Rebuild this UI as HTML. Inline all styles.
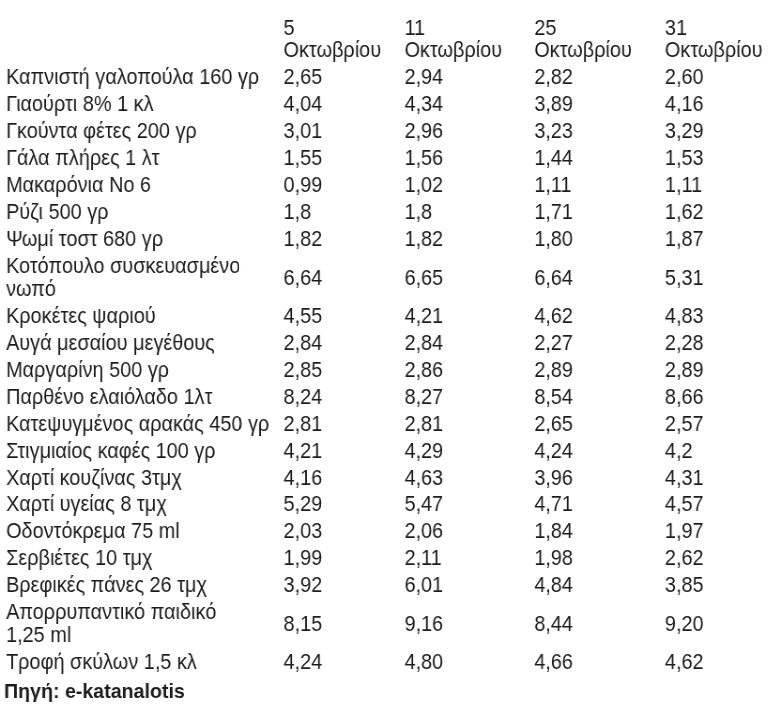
<!DOCTYPE html>
<html><head><meta charset="utf-8">
<style>
html,body{margin:0;padding:0;background:#fff;}
body{width:769px;height:728px;overflow:hidden;position:relative;font-family:"Liberation Sans",sans-serif;color:#1c1c1c;}
#w{position:absolute;left:0;top:0;width:819.236px;height:728px;transform:scaleX(0.93868);transform-origin:0 0;will-change:transform;font-size:21.2px;}
table{position:absolute;left:4.261px;top:14px;border-collapse:collapse;}
td{padding:2px 2.131px;vertical-align:middle;white-space:nowrap;line-height:23px;}
td:nth-child(1){width:291.367px;}
td:nth-child(2){width:124.643px;}
td:nth-child(3){width:134.018px;}
td:nth-child(4){width:134.977px;}
td:nth-child(5){width:106.533px;}
tr.hd td{line-height:22px;padding-top:3px;padding-bottom:2px;}
tr.r15 td{padding-bottom:1px;}
.src{position:absolute;left:4.261px;top:679px;font-weight:bold;font-size:20.880px;}
</style></head><body>
<div id="w">
<table>
<tr class="hd"><td></td><td>5<br>Οκτωβρίου</td><td>11<br>Οκτωβρίου</td><td>25<br>Οκτωβρίου</td><td>31<br>Οκτωβρίου</td></tr>
<tr><td>Καπνιστή γαλοπούλα 160 γρ</td><td>2,65</td><td>2,94</td><td>2,82</td><td>2,60</td></tr>
<tr><td>Γιαούρτι 8% 1 κλ</td><td>4,04</td><td>4,34</td><td>3,89</td><td>4,16</td></tr>
<tr><td>Γκούντα φέτες 200 γρ</td><td>3,01</td><td>2,96</td><td>3,23</td><td>3,29</td></tr>
<tr><td>Γάλα πλήρες 1 λτ</td><td>1,55</td><td>1,56</td><td>1,44</td><td>1,53</td></tr>
<tr><td>Μακαρόνια Νο 6</td><td>0,99</td><td>1,02</td><td>1,11</td><td>1,11</td></tr>
<tr><td>Ρύζι 500 γρ</td><td>1,8</td><td>1,8</td><td>1,71</td><td>1,62</td></tr>
<tr><td>Ψωμί τοστ 680 γρ</td><td>1,82</td><td>1,82</td><td>1,80</td><td>1,87</td></tr>
<tr><td>Κοτόπουλο συσκευασμένο<br>νωπό</td><td>6,64</td><td>6,65</td><td>6,64</td><td>5,31</td></tr>
<tr><td>Κροκέτες ψαριού</td><td>4,55</td><td>4,21</td><td>4,62</td><td>4,83</td></tr>
<tr><td>Αυγά μεσαίου μεγέθους</td><td>2,84</td><td>2,84</td><td>2,27</td><td>2,28</td></tr>
<tr><td>Μαργαρίνη 500 γρ</td><td>2,85</td><td>2,86</td><td>2,89</td><td>2,89</td></tr>
<tr><td>Παρθένο ελαιόλαδο 1λτ</td><td>8,24</td><td>8,27</td><td>8,54</td><td>8,66</td></tr>
<tr><td>Κατεψυγμένος αρακάς 450 γρ</td><td>2,81</td><td>2,81</td><td>2,65</td><td>2,57</td></tr>
<tr><td>Στιγμιαίος καφές 100 γρ</td><td>4,21</td><td>4,29</td><td>4,24</td><td>4,2</td></tr>
<tr class="r15"><td>Χαρτί κουζίνας 3τμχ</td><td>4,16</td><td>4,63</td><td>3,96</td><td>4,31</td></tr>
<tr><td>Χαρτί υγείας 8 τμχ</td><td>5,29</td><td>5,47</td><td>4,71</td><td>4,57</td></tr>
<tr><td>Οδοντόκρεμα 75 ml</td><td>2,03</td><td>2,06</td><td>1,84</td><td>1,97</td></tr>
<tr><td>Σερβιέτες 10 τμχ</td><td>1,99</td><td>2,11</td><td>1,98</td><td>2,62</td></tr>
<tr><td>Βρεφικές πάνες 26 τμχ</td><td>3,92</td><td>6,01</td><td>4,84</td><td>3,85</td></tr>
<tr><td>Απορρυπαντικό παιδικό<br>1,25 ml</td><td>8,15</td><td>9,16</td><td>8,44</td><td>9,20</td></tr>
<tr><td>Τροφή σκύλων 1,5 κλ</td><td>4,24</td><td>4,80</td><td>4,66</td><td>4,62</td></tr>
</table>
<div class="src">Πηγή: e-katanalotis</div>
</div>
</body></html>
